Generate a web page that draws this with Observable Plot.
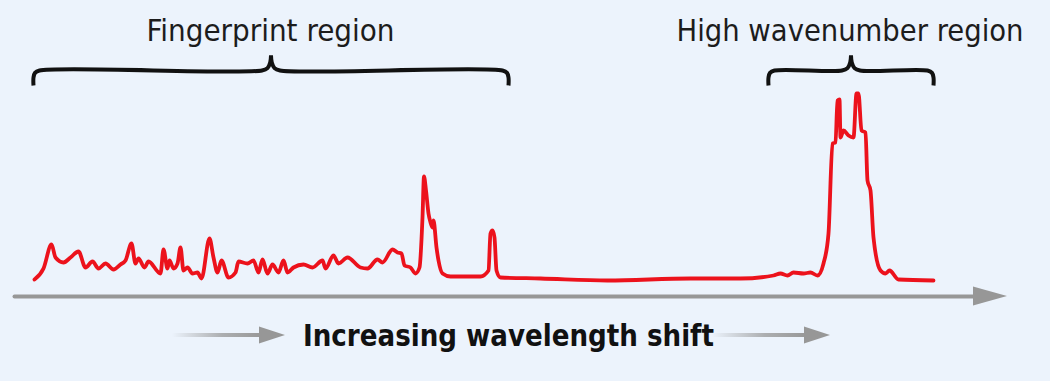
<!DOCTYPE html>
<html>
<head>
<meta charset="utf-8">
<script src="https://cdn.jsdelivr.net/npm/d3@7"></script>
<script src="https://cdn.jsdelivr.net/npm/@observablehq/plot@0.6"></script>
<style>
  html, body { margin: 0; padding: 0; background: #ecf3fc; }
  #chart { width: 1050px; height: 381px; overflow: hidden; }
  #chart text { font-stretch: condensed; }
</style>
</head>
<body>
<div id="chart"></div>
<script>
// ---------- DATA ----------
// Relative shift position (arbitrary units) and intensity (arbitrary units)
const shift = [34, 43, 51, 55, 63, 70, 78, 85, 92, 98, 105, 113, 120, 125, 131, 135, 138, 144, 148, 160,
  163, 167, 169, 173, 177, 180, 183, 187, 192, 197, 201, 209, 213, 217, 221, 228, 235, 238, 247, 253,
  258, 262, 267, 272, 278, 283, 287, 293, 303, 312, 322, 325, 333, 338, 347, 360, 367, 377, 382, 392,
  397, 401, 404, 410, 415, 419, 422, 423.5, 425.5, 428, 430, 432, 433, 436, 438, 442, 450, 480, 488, 490,
  492, 494, 496, 500, 540, 607, 690, 740, 773, 780, 787, 793, 803, 810, 817, 823, 828, 832, 835, 837,
  839, 840, 843, 848, 853, 856, 858, 861, 865, 867, 870, 873, 880, 885, 889, 898, 933];
const intensity = [0.5, 6, 18, 11.5, 9, 11.5, 14.5, 6.5, 9.5, 6, 8.5, 5.5, 8, 10, 18.5, 8.5, 11, 6.5, 9.5, 3.5,
  15.5, 6, 10, 6, 8.5, 16.5, 5, 6.5, 3.5, 4, 1, 21, 11.5, 4, 10, 1.5, 4, 9.5, 8.5, 10,
  4, 10.5, 3.5, 8, 4, 10, 4, 6.5, 8, 6.5, 10, 6, 12.5, 8.5, 11.5, 6.5, 6, 10.5, 9, 15.5,
  14, 13.5, 7.5, 6.5, 3.5, 6.5, 31.5, 52, 45, 33.5, 29, 26.5, 30, 16.5, 10, 3.5, 2, 2, 5, 23.5,
  25, 21.5, 5, 1.5, 1, 0, 1, 1, 2.5, 3.5, 2.5, 4, 3.5, 4, 2.5, 8.5, 23.5, 68.5, 69, 90,
  90.5, 71.5, 75, 72.5, 71.5, 93.5, 93.5, 75, 74, 50, 45, 21.5, 5, 3.5, 5, 0.5, 0];

const regionLabels = ["Fingerprint region", "High wavenumber region"];
const regionStart = [33, 768];
const regionEnd = [508, 933];
const axisLabel = "Increasing wavelength shift";

// ---------- STYLE / LAYOUT CONSTANTS ----------
const BG = "#ecf3fc";
const RED = "#ec121c";
const GRAY = "#979797";
const braceLevel = 105, labelLevel = 124.8;
const labelCenters = [270, 849.5];
const axisLevel = -8, axisFrom = 14, axisTo = 1007, axisHead = 34, axisHalf = 4.75;
const hintLevel = -27.5, hintLabelLevel = -27.7, hintLabelCenter = 508;
const hintArrows = [{from: 172, to: 285}, {from: 712, to: 830}];
const hintHead = 26, hintHalf = 4.2;
const textWidths = {"Fingerprint region": 248, "High wavenumber region": 347, "Increasing wavelength shift": 411};
const FONT = "'DejaVu Sans Condensed', 'DejaVu Sans', sans-serif";

const spectrum = shift.map((s, i) => ({s, v: intensity[i]}));

function brace(x1, x2, level, id) {
  const cx = (x1 + x2) / 2;
  const left = [[x1, -7.5], [x1, -3.5], [x1 + 1.5, -1.2], [x1 + 6, 0], [cx - 9, 0], [cx - 3.5, 1.2], [cx - 0.8, 4], [cx, 7.5]];
  const right = left.map(([x, d]) => [2 * cx - x, d]);
  return [
    ...left.map(([x, d]) => ({x, y: level + d, id: id + "L"})),
    ...right.map(([x, d]) => ({x, y: level + d, id: id + "R"}))
  ];
}
const braces = regionLabels.flatMap((l, i) => brace(regionStart[i], regionEnd[i], braceLevel, "b" + i));
const labels = regionLabels.map((l, i) => ({x: labelCenters[i], y: labelLevel, t: l}));

const axisHeadPts = [
  {x: axisTo - axisHead, lo: axisLevel - axisHalf, hi: axisLevel + axisHalf, id: "a"},
  {x: axisTo, lo: axisLevel, hi: axisLevel, id: "a"}
];
const hintShafts = hintArrows.map(a => ({x1: a.from, x2: a.to - hintHead + 4, y1: hintLevel - 1, y2: hintLevel + 1}));
const hintHeads = hintArrows.flatMap((a, i) => [
  {x: a.to - hintHead, lo: hintLevel - hintHalf, hi: hintLevel + hintHalf, id: "h" + i},
  {x: a.to, lo: hintLevel, hi: hintLevel, id: "h" + i}
]);

const svg = Plot.plot({
  width: 1050,
  height: 381,
  margin: 0,
  style: {background: BG},
  x: {domain: [0, 1050], range: [0, 1050], axis: null},
  y: {domain: [0, 100], range: [280, 80], axis: null},
  marks: [
    // axis arrow
    Plot.line([{x: axisFrom, y: axisLevel}, {x: axisTo - axisHead + 2, y: axisLevel}], {x: "x", y: "y", stroke: GRAY, strokeWidth: 4}),
    Plot.areaY(axisHeadPts, {x: "x", y1: "lo", y2: "hi", z: "id", fill: GRAY}),
    // spectrum
    Plot.line(spectrum, {x: "s", y: "v", stroke: RED, strokeWidth: 3.8, curve: "monotone-x", strokeLinejoin: "round"}),
    // braces
    Plot.line(braces, {x: "x", y: "y", z: "id", stroke: "#111", strokeWidth: 4, curve: "catmull-rom", strokeLinecap: "butt"}),
    Plot.text(labels, {x: "x", y: "y", text: "t", fontSize: 30, fontFamily: FONT, fill: "#1c1c1c"}),
    // hint arrows
    Plot.rect(hintShafts, {x1: "x1", x2: "x2", y1: "y1", y2: "y2", fill: "url(#fadeGrad)"}),
    Plot.areaY(hintHeads, {x: "x", y1: "lo", y2: "hi", z: "id", fill: GRAY}),
    Plot.text([axisLabel], {x: hintLabelCenter, y: hintLabelLevel, text: d => d, fontSize: 30, fontWeight: "bold", fontFamily: FONT, fill: "#111"})
  ]
});

// gradient for fading shafts
const defs = d3.create("svg:defs");
const g = defs.append("linearGradient").attr("id", "fadeGrad").attr("x1", "0").attr("x2", "1").attr("y1", "0").attr("y2", "0");
g.append("stop").attr("offset", "0").attr("stop-color", GRAY).attr("stop-opacity", 0);
g.append("stop").attr("offset", "0.55").attr("stop-color", GRAY).attr("stop-opacity", 0.75);
g.append("stop").attr("offset", "1").attr("stop-color", GRAY).attr("stop-opacity", 1);
svg.insertBefore(defs.node(), svg.firstChild);

document.getElementById("chart").append(svg);

// condense texts to the reference widths
d3.select(svg).selectAll("text").each(function() {
  const w = textWidths[this.textContent];
  if (w) d3.select(this).attr("textLength", w).attr("lengthAdjust", "spacingAndGlyphs");
});
</script>
</body>
</html>
